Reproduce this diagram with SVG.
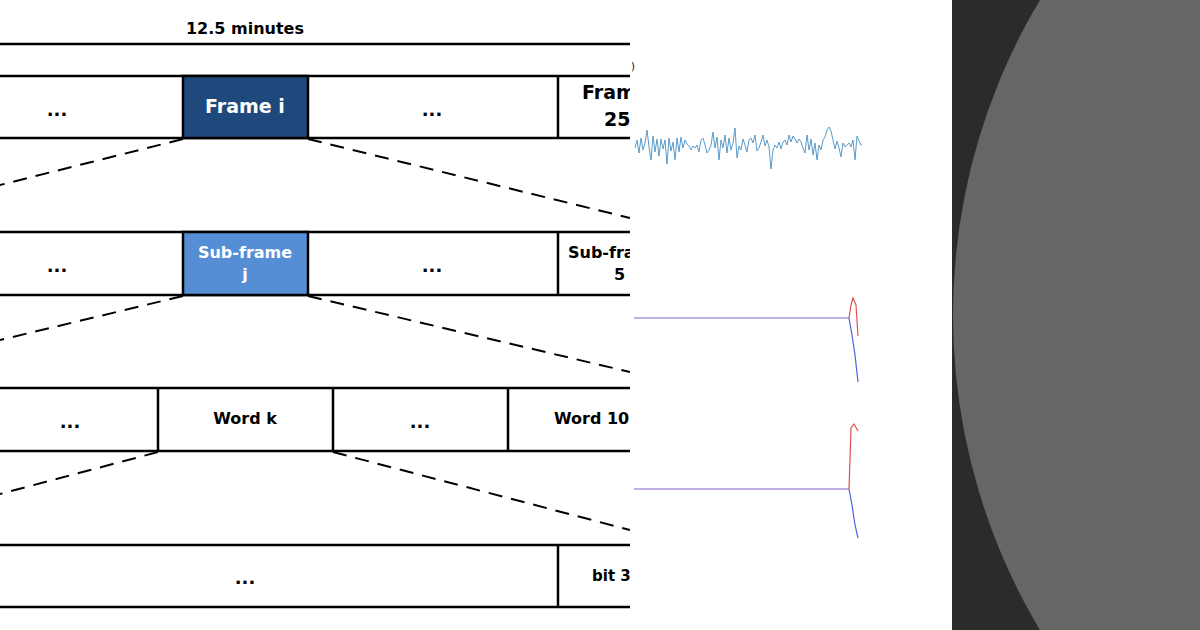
<svg xmlns="http://www.w3.org/2000/svg" width="1200" height="630" viewBox="0 0 1200 630">
<defs>
<clipPath id="lc"><rect x="0" y="0" width="630" height="630"/></clipPath>
<style>
.b{fill:#fff;stroke:#000;stroke-width:2.5}
.t{font-family:"DejaVu Sans",sans-serif;font-weight:bold;fill:#000;text-anchor:middle}
.s{text-anchor:start}
.d{stroke:#000;stroke-width:2;stroke-dasharray:14,9;fill:none}
</style>
</defs>
<rect width="1200" height="630" fill="#fff"/>
<rect x="952" y="0" width="248" height="630" fill="#2b2b2b"/>
<circle cx="1567" cy="315" r="614" fill="#666"/>
<g clip-path="url(#lc)">
<text class="t" x="245" y="34" font-size="16">12.5 minutes</text>
<line x1="0" y1="44" x2="640" y2="44" stroke="#000" stroke-width="2.5"/>
<g id="row1">
<rect class="b" x="-10" y="76" width="660" height="62"/>
<rect x="183" y="76" width="125" height="62" fill="#1f497d" stroke="#000" stroke-width="2.5"/>
<line x1="558" y1="76" x2="558" y2="138" stroke="#000" stroke-width="2.5"/>
<text class="t" x="57" y="116" font-size="18">...</text>
<text x="245" y="113" font-family="DejaVu Sans,sans-serif" font-weight="bold" font-size="19" fill="#fff" text-anchor="middle">Frame i</text>
<text class="t" x="432" y="116" font-size="18">...</text>
<text class="t s" x="582" y="99" font-size="19">Frame</text>
<text class="t s" x="604" y="126" font-size="19">25</text>
</g>
<g id="row2">
<rect class="b" x="-10" y="232" width="660" height="63"/>
<rect x="183" y="232" width="125" height="63" fill="#558ed5" stroke="#000" stroke-width="2.5"/>
<line x1="558" y1="232" x2="558" y2="295" stroke="#000" stroke-width="2.5"/>
<text class="t" x="57" y="272" font-size="18">...</text>
<text x="245" y="258" font-family="DejaVu Sans,sans-serif" font-weight="bold" font-size="16" fill="#fff" text-anchor="middle">Sub-frame</text>
<text x="245" y="280" font-family="DejaVu Sans,sans-serif" font-weight="bold" font-size="16" fill="#fff" text-anchor="middle">j</text>
<text class="t" x="432" y="272" font-size="18">...</text>
<text class="t s" x="568" y="258" font-size="16">Sub-frame</text>
<text class="t s" x="614" y="280" font-size="16">5</text>
</g>
<g id="row3">
<rect class="b" x="-10" y="388" width="660" height="63"/>
<line x1="158" y1="388" x2="158" y2="451" stroke="#000" stroke-width="2.5"/>
<line x1="333" y1="388" x2="333" y2="451" stroke="#000" stroke-width="2.5"/>
<line x1="508" y1="388" x2="508" y2="451" stroke="#000" stroke-width="2.5"/>
<text class="t" x="70" y="428" font-size="18">...</text>
<text class="t" x="245" y="424" font-size="16">Word k</text>
<text class="t" x="420" y="428" font-size="18">...</text>
<text class="t s" x="554" y="424" font-size="16">Word 10</text>
</g>
<g id="row4">
<rect class="b" x="-10" y="545" width="660" height="62"/>
<line x1="558" y1="545" x2="558" y2="607" stroke="#000" stroke-width="2.5"/>
<text class="t" x="245" y="584" font-size="18">...</text>
<text class="t s" x="592" y="581" font-size="15">bit 32</text>
</g>
<g id="connectors">
<line class="d" x1="183" y1="139" x2="0" y2="185"/>
<line class="d" x1="308" y1="139" x2="630" y2="218"/>
<line class="d" x1="183" y1="296" x2="0" y2="340"/>
<line class="d" x1="308" y1="296" x2="630" y2="372"/>
<line class="d" x1="158" y1="452" x2="0" y2="494"/>
<line class="d" x1="333" y1="452" x2="630" y2="530"/>
</g>
</g>
<text x="631" y="70" font-family="DejaVu Sans,sans-serif" font-size="10" fill="#000">)</text>
<path fill="none" stroke="#5a9bc9" stroke-width="1" d="M635,148 L637,140 L639,153 L641,138 L643,150 L645,143 L647,130 L649,147 L651,160 L653,136 L655,152 L657,139 L659,156 L661,139 L663,149 L665,140 L667,164 L669,138 L671,151 L673,142 L675,160 L677,138 L679,152 L681,137 L683,148 L685,140 L687,144 L689,146 L691,150 L693,146 L695,148 L697,145 L699,152 L701,140 L703,138 L705,145 L707,153 L709,150 L711,145 L713,132 L715,148 L717,137 L719,160 L721,140 L723,148 L725,135 L727,153 L729,138 L731,150 L733,143 L735,128 L737,158 L739,146 L741,150 L743,139 L745,145 L747,152 L749,140 L751,138 L753,143 L755,135 L757,151 L759,148 L761,142 L763,135 L765,146 L767,140 L769,147 L771,169 L773,150 L775,145 L777,148 L779,142 L781,149 L783,142 L785,140 L787,145 L789,135 L791,142 L793,136 L795,139 L797,143 L799,139 L801,142 L803,148 L805,153 L807,135 L809,150 L811,139 L813,155 L815,143 L817,160 L819,145 L821,150 L823,140 L825,137 L827,130 L829,127 L831,131 L833,140 L835,149 L837,141 L839,148 L841,157 L843,143 L845,147 L847,145 L849,143 L851,147 L853,140 L855,160 L857,136 L859,141 L861,145 L862,145"/>
<g id="wave1">
<line x1="634" y1="318" x2="849" y2="318" stroke="#8060c8" stroke-width="1.2"/>
<path d="M849,318 L851,305 L853,298 L856,305 L858,336" fill="none" stroke="#e05050" stroke-width="1.2"/>
<path d="M849,318 L852,335 L855,355 L858,382" fill="none" stroke="#5060e0" stroke-width="1.2"/>
</g>
<g id="wave2">
<line x1="634" y1="489" x2="849" y2="489" stroke="#8060c8" stroke-width="1.2"/>
<path d="M849,489 L850,460 L851,428 L854,424 L858,431" fill="none" stroke="#e05050" stroke-width="1.2"/>
<path d="M849,489 L852,505 L855,525 L858,538" fill="none" stroke="#5060e0" stroke-width="1.2"/>
</g>
</svg>
